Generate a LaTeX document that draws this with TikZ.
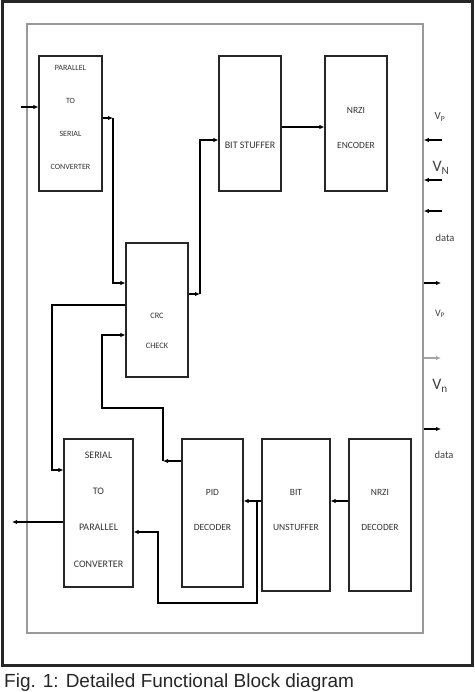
\documentclass[tikz,border=0pt]{standalone}
\usepackage{fontspec}
\setmainfont{Carlito}
\newfontfamily\capfont{Liberation Sans}
\usetikzlibrary{arrows.meta, positioning}

\begin{document}
\begin{tikzpicture}[
  x=1pt, y=-1pt,
  blk/.style={draw=black!85, line width=1.1pt, inner sep=0pt},
  txt/.style={text=black!80, align=center, inner sep=0pt},
  arr/.style={line width=1.1pt, -{Latex[length=5pt,width=4.5pt]}},
  pin/.style={text=black!75, inner sep=0pt}]

  \useasboundingbox (0,0) rectangle (474,692);
  \draw[line width=3pt, black!85] (2,2) rectangle (472,665);
  \node[draw=black!40, line width=1.6pt, minimum width=396pt, minimum height=609pt] (chip) at (225,328.5) {};

  % blocks
  \node[blk, minimum width=63pt, minimum height=135pt] (p2s) at (70.5,123.5) {};
  \node[blk, minimum width=62pt, minimum height=135pt] (bs) at (250,123.5) {};
  \node[blk, minimum width=62pt, minimum height=135pt] (enc) at (356,123.5) {};
  \node[blk, minimum width=62pt, minimum height=134pt] (crc) at (157,310) {};
  \node[blk, minimum width=69pt, minimum height=148pt] (s2p) at (98.5,513) {};
  \node[blk, minimum width=61pt, minimum height=148pt] (pid) at (212.5,513) {};
  \node[blk, minimum width=68pt, minimum height=152pt] (uns) at (296,515) {};
  \node[blk, minimum width=62pt, minimum height=152pt] (dec) at (380,515) {};

  \node[txt, font=\fontsize{8}{33}\selectfont] (p2stxt) at (70.5,117) {PARALLEL\\TO\\SERIAL\\CONVERTER};
  \node[txt, font=\fontsize{10}{35}\selectfont] (bstxt) at (250,145) {BIT STUFFER};
  \node[txt, font=\fontsize{9.5}{35}\selectfont] (enctxt) at (356,127.5) {NRZI\\ENCODER};
  \node[txt, font=\fontsize{8.3}{30}\selectfont] (crctxt) at (157,331) {CRC\\CHECK};
  \node[txt, font=\fontsize{10}{36.3}\selectfont] (s2ptxt) at (98.5,509.5) {SERIAL\\TO\\PARALLEL\\CONVERTER};
  \node[txt, font=\fontsize{9.5}{35}\selectfont] (pidtxt) at (212.5,509.5) {PID\\DECODER};
  \node[txt, font=\fontsize{9.5}{35}\selectfont] (unstxt) at (296,509.5) {BIT\\UNSTUFFER};
  \node[txt, font=\fontsize{9.5}{35}\selectfont] (dectxt) at (380,509.5) {NRZI\\DECODER};

  % transmit path
  \coordinate (in) at (21,107);
  \draw[arr] (in) -- (in -| p2s.west);
  \coordinate (c1) at (113,118);
  \coordinate (c2) at (113,283);
  \draw[arr] (c1 -| p2s.east) -- (c1);
  \draw[arr] (c1) -- (c2) -- (c2 -| crc.west);
  \coordinate (c3) at (200,294);
  \coordinate (c4) at (200,140);
  \draw[arr] (c3 -| crc.east) -- (c3);
  \draw[arr] (c3) -- (c4) -- (c4 -| bs.west);
  \coordinate (c5) at (0,127);
  \draw[arr] (bs.east |- c5) -- (enc.west |- c5);

  % receive path
  \coordinate (c12) at (0,501);
  \draw[arr] (dec.west |- c12) -- (uns.east |- c12);
  \draw[arr] (uns.west |- c12) -- (pid.east |- c12);
  \coordinate (c13) at (257,501);
  \coordinate (c14) at (257,603);
  \coordinate (c15) at (158,603);
  \coordinate (c16) at (158,532);
  \draw[arr] (c13) -- (c14) -- (c15) -- (c16) -- (c16 -| s2p.east);
  \coordinate (c8) at (163,461);
  \coordinate (c9) at (163,408);
  \coordinate (c10) at (102,408);
  \coordinate (c11) at (102,335);
  \draw[arr] (c8 -| pid.west) -- (c8);
  \draw[arr] (c8) -- (c9) -- (c10) -- (c11) -- (c11 -| crc.west);
  \coordinate (c6) at (52,305);
  \coordinate (c7) at (52,470);
  \draw[arr] (c6 -| crc.west) -- (c6) -- (c7) -- (c7 -| s2p.west);
  \coordinate (out) at (12,522);
  \draw[arr] (s2p.west |- out) -- (out);

  % pins on the right
  \coordinate (vpin) at (442,140);
  \coordinate (vnin) at (442,180);
  \coordinate (dtin) at (442,211);
  \draw[arr] (vpin) -- (vpin -| chip.east);
  \draw[arr] (vnin) -- (vnin -| chip.east);
  \draw[arr] (dtin) -- (dtin -| chip.east);
  \coordinate (vpout) at (441,283);
  \coordinate (vnout) at (441,358);
  \coordinate (dtout) at (441,429);
  \draw[arr] (vpout -| chip.east) -- (vpout);
  \draw[arr, black!35] (vnout -| chip.east) -- (vnout);
  \draw[arr] (dtout -| chip.east) -- (dtout);

  \node[pin, font=\fontsize{11}{13}\selectfont] (vplab) at (440,117) {V\textsubscript{P}};
  \node[pin, font=\fontsize{16}{18}\selectfont] (vnlab) at (441,168) {V\textsubscript{N}};
  \node[pin, font=\fontsize{10.5}{12}\selectfont] (dtlab) at (445,238) {data};
  \node[pin, font=\fontsize{10}{12}\selectfont] (vplab2) at (440,314) {V\textsubscript{P}};
  \node[pin, font=\fontsize{16}{18}\selectfont] (vnlab2) at (440,386) {V\textsubscript{n}};
  \node[pin, font=\fontsize{10.5}{12}\selectfont] (dtlab2) at (444,455) {data};

  \node[anchor=base west, inner sep=0pt, font=\capfont\fontsize{19}{22}\selectfont, text=black!85] (cap) at (4,687) {Fig. 1: Detailed Functional Block diagram};
\end{tikzpicture}
\end{document}
